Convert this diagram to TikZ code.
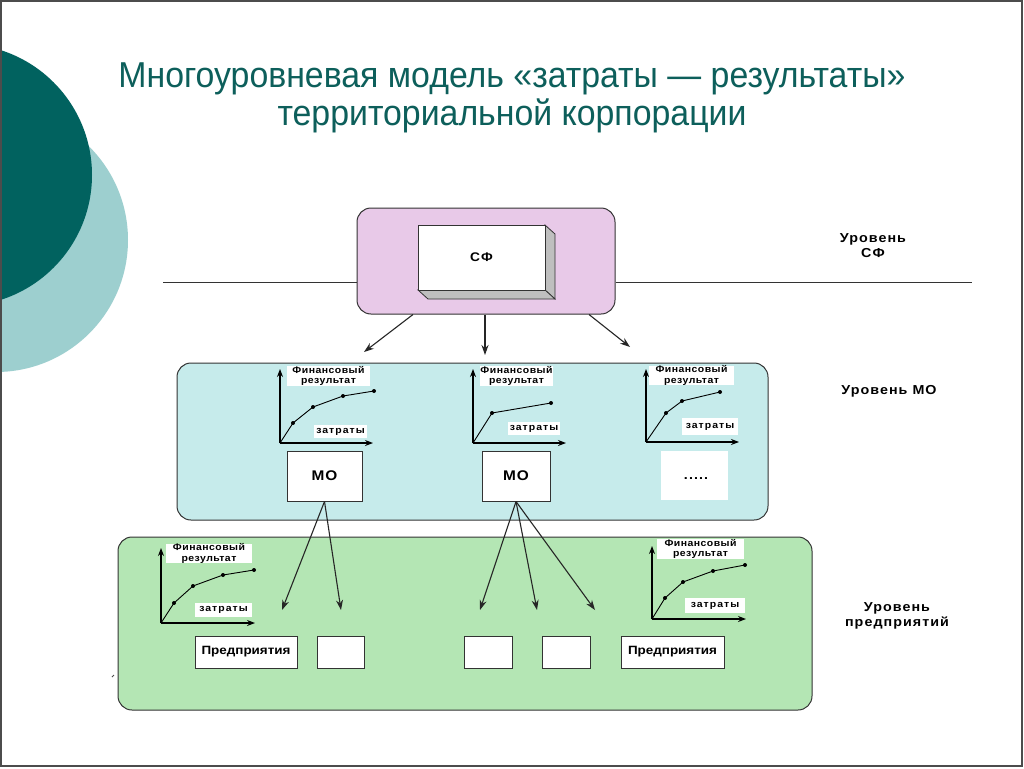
\documentclass[tikz,border=0pt]{standalone}
\usepackage{fontspec}
\setmainfont{Liberation Sans}
\newfontfamily\titlefont[FakeStretch=0.94]{Liberation Sans}
\newfontfamily\lblfont[FakeStretch=1.12]{Liberation Sans}
\newfontfamily\spfont[FakeStretch=1.1,LetterSpace=8]{Liberation Sans}
\newfontfamily\tagfont[FakeStretch=1.1,LetterSpace=5]{Liberation Sans}
\newfontfamily\tagwfont[FakeStretch=1.1,LetterSpace=11]{Liberation Sans}
\usetikzlibrary{arrows.meta}
\definecolor{darkteal}{HTML}{01625F}
\definecolor{lightteal}{HTML}{9DCFCF}
\definecolor{titlecol}{HTML}{0D5F5B}
\definecolor{pinkfill}{HTML}{E8C9E8}
\definecolor{cyanfill}{HTML}{C6EBEB}
\definecolor{greenfill}{HTML}{B4E6B4}
\definecolor{edge}{HTML}{333333}
\begin{document}
\begin{tikzpicture}[x=1pt,y=-1pt,
  panel/.style={draw=edge, line width=1pt, rounded corners=14pt, inner sep=0pt},
  wbox/.style={draw=edge, line width=1pt, fill=white, inner sep=0pt, font=\lblfont\bfseries\fontsize{12}{13}\selectfont},
  sbox/.style={wbox, font=\spfont\bfseries\fontsize{13}{14}\selectfont},
  lvl/.style={align=center, font=\spfont\bfseries\fontsize{13}{15}\selectfont},
  tag/.style={fill=white, inner sep=0pt, align=center, font=\tagfont\bfseries\fontsize{9.5}{10.5}\selectfont},
  tagw/.style={tag, font=\tagwfont\bfseries\fontsize{9.5}{10.5}\selectfont},
  arr/.style={draw=black!85, line width=1.1pt, -{Stealth[length=10pt,width=7pt]}},
  axis/.style={draw=black, line width=1.2pt, -{Stealth[length=8pt,width=6pt]}},
  curve/.style={draw=black, line width=0.9pt},
  dot/.style={circle, fill=black, inner sep=0pt, minimum size=4pt}
]
\useasboundingbox (0,0) rectangle (1024,768);
\begin{scope}
\clip (0,0) rectangle (1024,768);
\fill[white] (0,0) rectangle (1024,768);
\fill[lightteal] (-4,240) circle (132);
\fill[darkteal] (-39,175) circle (131);
\end{scope}
\draw[black!70, line width=2pt] (1,1) rectangle (1022,766);

% title
\node[font=\titlefont\fontsize{36}{38}\selectfont, text=titlecol, align=center] (title) at (512,98)
  {Многоуровневая модель «затраты — результаты»\\территориальной корпорации};

% panels
\node[panel, fill=pinkfill, minimum width=258pt, minimum height=106pt] (pink) at (486,261) {};
\node[panel, fill=cyanfill, minimum width=591pt, minimum height=157pt] (cyan) at (472.5,441.5) {};
\node[panel, fill=greenfill, minimum width=694pt, minimum height=173pt] (green) at (465,623.5) {};

% level line
\coordinate (lineL) at (163,282);
\coordinate (lineR) at (972,282);
\draw[edge, line width=1pt] (lineL) -- (lineL -| pink.west);
\draw[edge, line width=1pt] (lineR -| pink.east) -- (lineR);

% SF 3D box
\fill[black!25, draw=edge, line width=0.8pt] (545,225) -- (555,234) -- (555,299) -- (545,290) -- cycle;
\fill[black!25, draw=edge, line width=0.8pt] (418,290) -- (428,299) -- (555,299) -- (545,290) -- cycle;
\node[sbox, font=\spfont\bfseries\fontsize{12.5}{13}\selectfont, minimum width=127pt, minimum height=65pt] (sf) at (481.5,257.5) {СФ};

% arrows from SF
\coordinate (s1) at (364,352);
\coordinate (s2) at (485,355);
\coordinate (s3) at (630,347);
\draw[arr] ([xshift=-73pt]pink.south) -- (s1);
\draw[arr] ([xshift=-1pt]pink.south) -- (s2);
\draw[arr] ([xshift=103pt]pink.south) -- (s3);

% level labels
\node[lvl] (lsf) at (873,246) {Уровень\\СФ};
\node[lvl] (lmo) at (889,391) {Уровень МО};
\node[lvl] (lpr) at (897,616) {Уровень\\предприятий};

% chart 1
\coordinate (o1) at (280,443);
\draw[axis] (o1) -- (280,369);
\draw[axis] (o1) -- (373,443);
\node[tag, minimum width=83pt, minimum height=18pt] (f1) at (328.5,376) {Финансовый\\результат};
\node[tagw, minimum width=53pt, minimum height=13pt] (z1) at (340.5,431.5) {затраты};
\draw[curve] (o1) -- (293,423) -- (313,407) -- (343,396) -- (374,391);
\foreach \p in {(293,423),(313,407),(343,396),(374,391)} \node[dot] at \p {};

% chart 2
\coordinate (o2) at (473,443);
\draw[axis] (o2) -- (473,369);
\draw[axis] (o2) -- (566,443);
\node[tag, minimum width=73pt, minimum height=18pt] (f2) at (516.5,376) {Финансовый\\результат};
\node[tagw, minimum width=52pt, minimum height=13pt] (z2) at (534,428.5) {затраты};
\draw[curve] (o2) -- (492,413) -- (551,403);
\foreach \p in {(492,413),(551,403)} \node[dot] at \p {};

% chart 3
\coordinate (o3) at (646,442);
\draw[axis] (o3) -- (646,369);
\draw[axis] (o3) -- (739,442);
\node[tag, minimum width=85pt, minimum height=19pt] (f3) at (691.5,375.5) {Финансовый\\результат};
\node[tagw, minimum width=56pt, minimum height=17pt] (z3) at (710,426.5) {затраты};
\draw[curve] (o3) -- (666,413) -- (682,401) -- (720,392);
\foreach \p in {(666,413),(682,401),(720,392)} \node[dot] at \p {};

% MO boxes
\node[sbox, font=\spfont\bfseries\fontsize{14}{15}\selectfont, minimum width=75pt, minimum height=50pt] (mo1) at (324.5,476) {МО};
\node[sbox, font=\spfont\bfseries\fontsize{14}{15}\selectfont, minimum width=68pt, minimum height=50pt] (mo2) at (516,476) {МО};
\node[wbox, draw=none, minimum width=67pt, minimum height=49pt] (mo3) at (694.5,475.5) {};
\node[font=\spfont\bfseries\fontsize{13}{14}\selectfont, inner sep=0pt] (dots) at (696,479) {.....};

% chart 4
\coordinate (o4) at (161,623);
\draw[axis] (o4) -- (161,548);
\draw[axis] (o4) -- (255,623);
\node[tag, minimum width=86pt, minimum height=19pt] (f4) at (209,553.5) {Финансовый\\результат};
\node[tagw, minimum width=57pt, minimum height=14pt] (z4) at (223.5,610) {затраты};
\draw[curve] (o4) -- (174,603) -- (193,586) -- (223,575) -- (254,570);
\foreach \p in {(174,603),(193,586),(223,575),(254,570)} \node[dot] at \p {};

% chart 5
\coordinate (o5) at (652,619);
\draw[axis] (o5) -- (652,546);
\draw[axis] (o5) -- (746,619);
\node[tag, minimum width=87pt, minimum height=18pt] (f5) at (700.5,549) {Финансовый\\результат};
\node[tagw, minimum width=60pt, minimum height=15pt] (z5) at (715,605.5) {затраты};
\draw[curve] (o5) -- (665,598) -- (683,582) -- (713,571) -- (745,565);
\foreach \p in {(665,598),(683,582),(713,571),(745,565)} \node[dot] at \p {};

% enterprise boxes
\node[wbox, minimum width=102pt, minimum height=32pt] (e1) at (246,652) {Предприятия};
\node[wbox, minimum width=47pt, minimum height=32pt] (e2) at (340.5,652) {};
\node[wbox, minimum width=48pt, minimum height=32pt] (e3) at (488,652) {};
\node[wbox, minimum width=48pt, minimum height=32pt] (e4) at (566,652) {};
\node[wbox, minimum width=103pt, minimum height=32pt] (e5) at (672.5,652) {Предприятия};

% arrows from MO
\coordinate (t1) at (282,610);
\coordinate (t2) at (341,610);
\coordinate (t3) at (480,610);
\coordinate (t4) at (537,610);
\coordinate (t5) at (595,610);
\draw[arr] (mo1.south) -- (t1);
\draw[arr] (mo1.south) -- (t2);
\draw[arr] (mo2.south) -- (t3);
\draw[arr] (mo2.south) -- (t4);
\draw[arr] (mo2.south) -- (t5);

% small stray mark
\coordinate (m1) at (112,677);
\coordinate (m2) at (114,675);
\draw[black!70, line width=0.8pt] (m1) -- (m2);
\end{tikzpicture}
\end{document}
